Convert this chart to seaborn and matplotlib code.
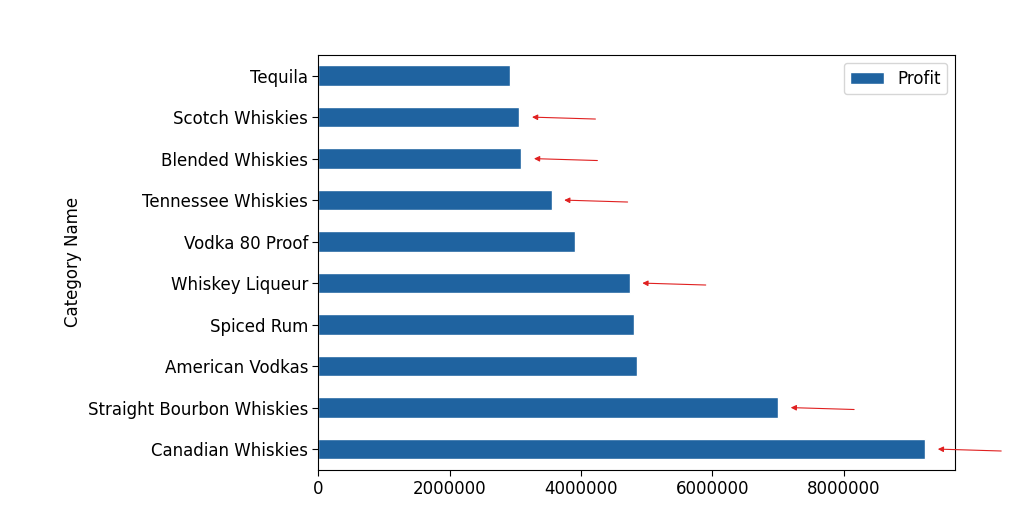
import matplotlib
matplotlib.use("Agg")
import matplotlib.pyplot as plt
import seaborn as sns
import pandas as pd

categories = ["Canadian Whiskies", "Straight Bourbon Whiskies", "American Vodkas", "Spiced Rum",
              "Whiskey Liqueur", "Vodka 80 Proof", "Tennessee Whiskies", "Blended Whiskies",
              "Scotch Whiskies", "Tequila"]
profit = [9240000, 7000000, 4850000, 4800000, 4740000, 3900000, 3550000, 3090000, 3060000, 2910000]
arrowed = ["Canadian Whiskies", "Straight Bourbon Whiskies", "Whiskey Liqueur",
           "Tennessee Whiskies", "Blended Whiskies", "Scotch Whiskies"]

sns.set_style("white")
plt.rcParams['font.family'] = ['DejaVu Sans']
plt.rcParams['text.color'] = 'black'
plt.rcParams['axes.labelcolor'] = 'black'
plt.rcParams['xtick.color'] = 'black'
plt.rcParams['ytick.color'] = 'black'
fig = plt.figure(figsize=(10.24, 5.32), dpi=100)
ax = fig.add_axes([0.311, 0.117, 0.622, 0.78])
order = categories
df = pd.DataFrame({"Category Name": categories, "Profit": profit})
sns.barplot(data=df, x="Profit", y="Category Name", order=order, color="#1f63a0",
            width=0.5, saturation=1, ax=ax, label="Profit")
ax.set_ylim(-0.5, len(order) - 0.5)
ax.set_xlim(0, 9700000)
ax.set_xticks([0, 2000000, 4000000, 6000000, 8000000])
ax.set_xticklabels(["0", "2000000", "4000000", "6000000", "8000000"])
ax.set_xlabel("")
ax.set_ylabel("Category Name", fontsize=12)
ax.tick_params(axis="both", labelsize=12, length=4, left=True, bottom=True, colors="black")
for s in ax.spines.values():
    s.set_color("black"); s.set_linewidth(0.8)
ax.legend(loc="upper right", fontsize=12, frameon=True)
for cat, v in zip(categories, profit):
    if cat in arrowed:
        i = order.index(cat)
        ax.annotate("", xy=(v + 150000, i), xytext=(v + 1200000, i - 0.05),
                    arrowprops=dict(arrowstyle="-|>", color="#e02020", lw=0.8, mutation_scale=8),
                    annotation_clip=False)
fig.savefig("out.png", dpi=100)
